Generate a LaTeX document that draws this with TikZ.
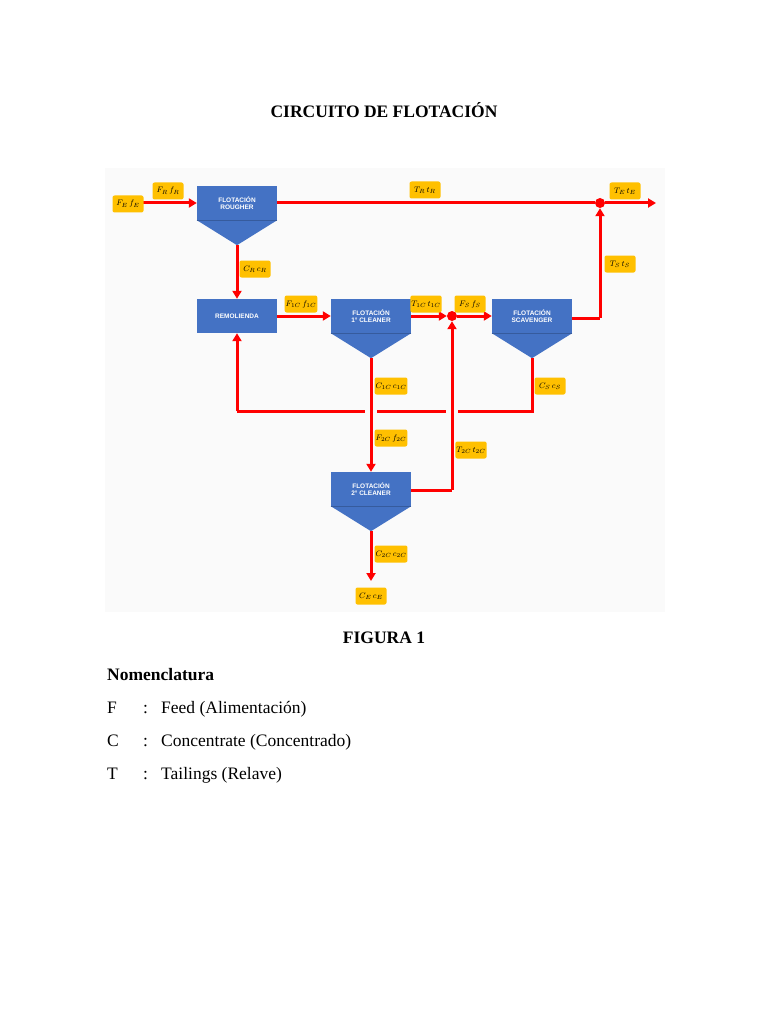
\documentclass[tikz,border=0pt]{standalone}
\usepackage{fontspec}
\setmainfont{Liberation Serif}
\newfontfamily\sansf{Liberation Sans}
\usetikzlibrary{arrows.meta,calc}
\definecolor{cblue}{HTML}{4472C4}
\definecolor{cyel}{HTML}{FFC000}
\definecolor{cred}{HTML}{FF0000}
\definecolor{cbg}{HTML}{FAFAFA}
\begin{document}
\begin{tikzpicture}[x=1pt,y=-1pt,
  unit/.style={fill=cblue,minimum width=80pt,minimum height=34pt,inner sep=0pt,
    font=\sansf\fontsize{6.5}{7.5}\selectfont\bfseries,text=white,align=center},
  lab/.style={fill=cyel,rounded corners=2pt,minimum width=31pt,minimum height=17pt,inner sep=1pt,
    font=\fontsize{8}{9}\selectfont},
  flow/.style={draw=cred,line width=3pt,-{Triangle[length=8pt,width=9pt]}},
  line/.style={draw=cred,line width=3pt},
  dot/.style={circle,fill=cred,minimum size=10pt,inner sep=0pt},
  txt/.style={font=\fontsize{17.5}{20}\selectfont,anchor=base west,inner sep=0pt}]
\useasboundingbox (0,0) rectangle (768,1024);
\fill[white] (0,0) rectangle (768,1024);
\fill[cbg] (105,168) rectangle (665,612);
% units
\node[unit] (rou) at (237,203) {FLOTACIÓN\\ROUGHER};
\node[unit] (rem) at (237,316) {REMOLIENDA};
\node[unit] (c1) at (371,316) {FLOTACIÓN\\1° CLEANER};
\node[unit] (sca) at (532,316) {FLOTACIÓN\\SCAVENGER};
\node[unit] (c2) at (371,489) {FLOTACIÓN\\2° CLEANER};
\foreach \n in {rou,c1,sca,c2}{
  \fill[cblue] (\n.south west) -- (\n.south east) -- ($(\n.south)+(0,25)$) coordinate (\n-a) -- cycle;
  \draw[cblue!80!black,line width=0.3pt] (\n.south west) -- (\n.south east);
}
% junctions and ends
\node[dot] (j1) at (600,203) {};
\node[dot] (j2) at (452,316) {};
\coordinate (in) at (143,203);
\coordinate (out) at (656,203);
\coordinate (ce) at (371,581);
\coordinate (k1) at (600,318);
\coordinate (k2) at (532,411);
\coordinate (k3) at (237,411);
\coordinate (k4) at (452,490);
% flows
\draw[flow] (in) -- (rou.west);
\draw[line] (rou.east) -- (j1);
\draw[flow] (j1) -- (out);
\draw[flow] (rou-a) -- (rem.north);
\draw[flow] (rem.east) -- (c1.west);
\draw[flow] (c1.east) -- (j2);
\draw[flow] (j2) -- (sca.west);
\draw[line] (sca.east |- k1) -- (k1);
\draw[flow] (k1) -- (j1);
\draw[line] (sca-a) -- (k2) -- (k3);
\draw[flow] (k3) -- (rem.south);
\draw[cbg,line width=6pt] (365,411) -- (377,411) (446,411) -- (458,411);
\draw[flow] (c1-a) -- (c2.north);
\draw[line] (c2.east |- k4) -- (k4);
\draw[flow] (k4) -- (j2);
\draw[flow] (c2-a) -- (ce);
% labels
\node[lab] (lFE) at (128,204) {$F_E\,f_E$};
\node[lab] (lFR) at (168,191) {$F_R\,f_R$};
\node[lab] (lTR) at (425,190) {$T_R\,t_R$};
\node[lab] (lTE) at (625,191) {$T_E\,t_E$};
\node[lab] (lCR) at (255,269) {$C_R\,c_R$};
\node[lab] (lTS) at (620,264) {$T_S\,t_S$};
\node[lab] (lF1) at (301,304) {$F_{1C}\,f_{1C}$};
\node[lab] (lT1) at (426,304) {$T_{1C}\,t_{1C}$};
\node[lab] (lFS) at (470,304) {$F_S\,f_S$};
\node[lab] (lC1) at (391,386) {$C_{1C}\,c_{1C}$};
\node[lab] (lCS) at (550,386) {$C_S\,c_S$};
\node[lab] (lF2) at (391,438) {$F_{2C}\,f_{2C}$};
\node[lab] (lT2) at (471,450) {$T_{2C}\,t_{2C}$};
\node[lab] (lC2) at (391,554) {$C_{2C}\,c_{2C}$};
\node[lab] (lCE) at (371,596) {$C_E\,c_E$};
% text
\node[font=\fontsize{17.5}{20}\selectfont\bfseries] (title) at (384,110) {CIRCUITO DE FLOTACIÓN};
\node[font=\fontsize{17.5}{20}\selectfont\bfseries] (fig) at (384,638) {FIGURA 1};
\node[txt,font=\fontsize{17.5}{20}\selectfont\bfseries] (nom) at (107,680) {Nomenclatura};
\node[txt] (f1) at (107,713) {F};
\node[txt] (f2) at (143,713) {:};
\node[txt] (f3) at (161,713) {Feed (Alimentación)};
\node[txt] (g1) at (107,746) {C};
\node[txt] (g2) at (143,746) {:};
\node[txt] (g3) at (161,746) {Concentrate (Concentrado)};
\node[txt] (h1) at (107,779) {T};
\node[txt] (h2) at (143,779) {:};
\node[txt] (h3) at (161,779) {Tailings (Relave)};
\end{tikzpicture}
\end{document}
